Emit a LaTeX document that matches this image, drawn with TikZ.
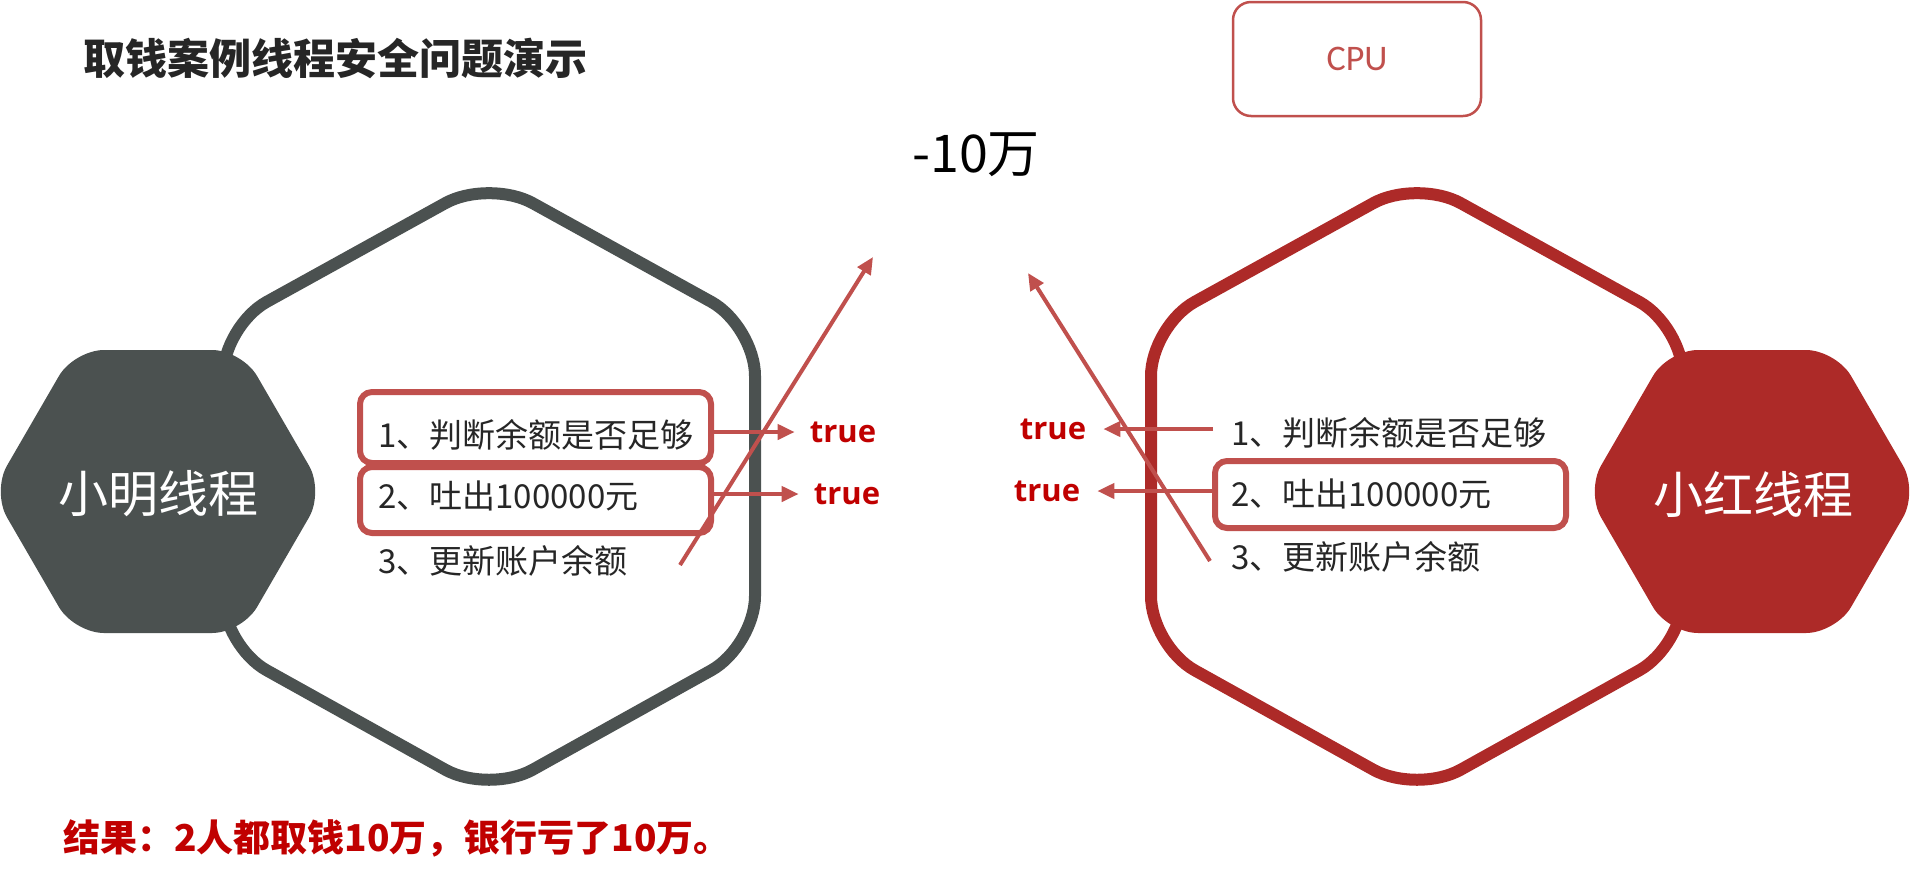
\documentclass[tikz,border=0pt]{standalone}
\usepackage{fontspec}
\setmainfont{Noto Sans CJK SC}
\newfontfamily\truefont{Open Sans}
\newfontfamily\cpufont{Carlito}
\usetikzlibrary{arrows.meta}
\definecolor{hexgray}{HTML}{4B5150}
\definecolor{hexred}{HTML}{AD2A28}
\definecolor{boxred}{HTML}{C0504D}
\definecolor{truered}{HTML}{C00000}
\definecolor{txt}{HTML}{262626}
\tikzset{
  bighex/.style={line width=12pt, rounded corners=50pt},
  smallhex/.style={rounded corners=30pt},
  stepbox/.style={draw=boxred, line width=6pt, rounded corners=12pt, inner sep=0pt},
  arr/.style={draw=boxred, line width=4pt, -{Triangle[length=17pt,width=15pt]}},
  item/.style={anchor=west, inner sep=0pt, text=txt, font=\fontsize{33}{33}\selectfont},
  truelbl/.style={text=truered, font=\fontsize{31}{31}\truefont\bfseries, inner ysep=0pt, inner xsep=15pt},
  hexlbl/.style={text=white, inner sep=0pt, font=\fontsize{50}{50}\selectfont},
}
\begin{document}
\begin{tikzpicture}[x=1pt,y=-1pt]
\useasboundingbox (0,0) rectangle (1911,876);
% title
\node[anchor=west, inner sep=0pt, text=txt, font=\fontsize{42}{42}\selectfont\bfseries] (title) at (83,58) {取钱案例线程安全问题演示};
% CPU
\node[draw=boxred, line width=2.5pt, rounded corners=18pt, minimum width=248pt, minimum height=114pt, text=boxred, font=\fontsize{36}{36}\cpufont] (cpu) at (1357,59) {CPU};
% -10万
\node[inner sep=0pt, text=black, font=\fontsize{52}{52}\selectfont] (minus) at (976,155) {-10万};
% big hexagons
\draw[bighex, draw=hexgray] (755,486) -- (755,646) -- (489,794) -- (223,646) -- (223,326) -- (489,179) -- (755,326) -- cycle;
\draw[bighex, draw=hexred] (1683,486) -- (1683,646) -- (1417,794) -- (1151,646) -- (1151,326) -- (1417,179) -- (1683,326) -- cycle;
% small filled hexagons
\fill[smallhex, hexgray] (158,350) -- (242,350) -- (324,491.5) -- (242,633) -- (74,633) -- (-8,491.5) -- (74,350) -- cycle;
\fill[smallhex, hexred] (1752,350) -- (1836,350) -- (1918,491.5) -- (1836,633) -- (1668,633) -- (1586,491.5) -- (1668,350) -- cycle;
\node[hexlbl] (xm) at (158,494) {小明线程};
\node[hexlbl] (xh) at (1753,494) {小红线程};
% left items
\node[stepbox, minimum width=351pt, minimum height=71pt] (lb1) at (535.5,427.5) {};
\node[stepbox, minimum width=351pt, minimum height=66pt] (lb2) at (535.5,500) {};
\node[item] (lt1x) at (378,435) {1、判断余额是否足够};
\node[item] (lt2x) at (378,496) {2、吐出100000元};
\node[item] (lt3x) at (378,561) {3、更新账户余额};
% right items
\node[stepbox, minimum width=351pt, minimum height=67pt] (rb2) at (1390.5,494.5) {};
\node[item, inner xsep=18pt] (rt1x) at (1213,433) {1、判断余额是否足够};
\node[item] (rt2x) at (1231,494) {2、吐出100000元};
\node[item] (rt3x) at (1231,557) {3、更新账户余额};
% true labels
\node[truelbl] (lt1) at (843,432) {true};
\node[truelbl] (lt2) at (847,494) {true};
\node[truelbl, inner xsep=17pt] (rt1) at (1053,429) {true};
\node[truelbl, inner xsep=17pt] (rt2) at (1047,491) {true};
% short arrows
\draw[arr] (lb1.east |- lt1) -- (lt1.west);
\draw[arr] (lb2.east |- lt2) -- (lt2.west);
\draw[arr] (rt1x.west |- rt1) -- (rt1.east);
\draw[arr] (rb2.west |- rt2) -- (rt2.east);
% long arrows
\coordinate (ls) at (680,565);
\coordinate (le) at (873,257);
\coordinate (rs) at (1210,561);
\coordinate (re) at (1028,273);
\draw[arr] (ls) -- (le);
\draw[arr] (rs) -- (re);
% result
\node[anchor=west, inner sep=0pt, text=truered, font=\fontsize{37}{37}\selectfont\bfseries] (result) at (63,838) {结果：2人都取钱10万，银行亏了10万。};
\end{tikzpicture}
\end{document}
